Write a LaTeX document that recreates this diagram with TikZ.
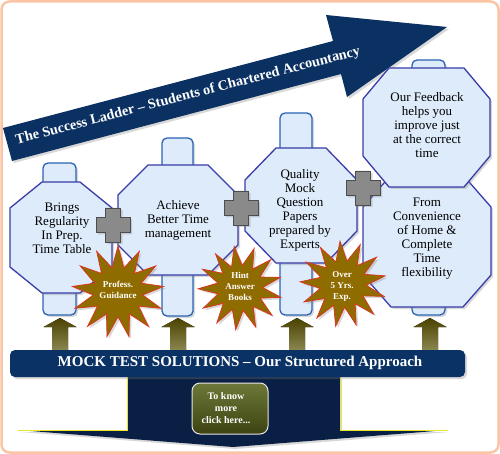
\documentclass[tikz,border=0pt]{standalone}
\usepackage{fontspec}
\setmainfont{Liberation Serif}
\usetikzlibrary{shapes.geometric,shadows}
\definecolor{framec}{HTML}{FBC5A5}
\definecolor{navy}{HTML}{0A3161}
\definecolor{bannerc}{HTML}{0B3264}
\definecolor{deepnavy}{HTML}{0A1F44}
\definecolor{octfill}{HTML}{DDEBFA}
\definecolor{octline}{HTML}{3A3CA8}
\definecolor{tabline}{HTML}{2C63B5}
\definecolor{plusgray}{HTML}{8A8A8A}
\definecolor{plusline}{HTML}{4D4D4D}
\definecolor{burstfill}{HTML}{8E6C00}
\definecolor{burstred}{HTML}{E03020}
\definecolor{olivedark}{HTML}{4A4200}
\definecolor{olivelight}{HTML}{8A8650}
\definecolor{btntop}{HTML}{6E7838}
\definecolor{btnbot}{HTML}{3C4312}
\definecolor{glow}{HTML}{E6E62A}
\newcommand\myoct[6]{%
  \draw[octo] ({#1+#5},#2) -- ({#3-#5},#2) -- (#3,{#2+#6}) -- (#3,{#4-#6}) --
    ({#3-#5},#4) -- ({#1+#5},#4) -- (#1,{#4-#6}) -- (#1,{#2+#6}) -- cycle;}
\newcommand\myplus[2]{%
  \draw[plusshape] ({#1-7.5},{#2-17}) -- ({#1+7.5},{#2-17}) -- ({#1+7.5},{#2-7.5}) --
    ({#1+17},{#2-7.5}) -- ({#1+17},{#2+7.5}) -- ({#1+7.5},{#2+7.5}) --
    ({#1+7.5},{#2+17}) -- ({#1-7.5},{#2+17}) -- ({#1-7.5},{#2+7.5}) --
    ({#1-17},{#2+7.5}) -- ({#1-17},{#2-7.5}) -- ({#1-7.5},{#2-7.5}) -- cycle;}
\newcommand\myup[1]{%
  \fill[uparrow] (#1,318) -- ({#1+16.5},327) -- ({#1+8},327) -- ({#1+8},350) --
    ({#1-8},350) -- ({#1-8},327) -- ({#1-16.5},327) -- cycle;}
\begin{document}
\begin{tikzpicture}[x=1pt,y=-1pt,
  softshadow/.style={drop shadow={opacity=0.3,shadow xshift=2pt,shadow yshift=-2pt}},
  octo/.style={fill=octfill,draw=octline,line width=1.3pt,softshadow},
  tabbox/.style={fill=octfill,draw=tabline,line width=1.3pt,rounded corners=5pt,softshadow},
  plusshape/.style={fill=plusgray,draw=plusline,line width=0.8pt,softshadow},
  burst/.style={star,star points=13,star point ratio=1.85,fill=burstfill,draw=burstred,
    line width=0.7pt,inner sep=0pt,softshadow},
  octtext/.style={align=center,text=black,font=\fontsize{13}{14}\selectfont},
  burstlabel/.style={align=center,text=white,font=\bfseries\fontsize{9}{11}\selectfont},
  uparrow/.style={top color=olivedark,bottom color=olivelight}
]
\useasboundingbox (0,0) rectangle (500,454);
% frame
\draw[framec,line width=2.5pt,rounded corners=8pt,fill=white] (1.5,1.5) rectangle (498.5,452.5);

% title arrow
\fill[navy,softshadow] (3,128) -- (333,41) -- (326,15) -- (447,27) -- (347,97) -- (341,74) -- (12,161) -- cycle;
\node[rotate=14.6,text=white,font=\bfseries\fontsize{14.3}{16}\selectfont] (title) at (188,96)
  {The Success Ladder -- Students of Chartered Accountancy};

% tabs (rails)
\draw[tabbox] (43,163) rectangle (76,315);
\draw[tabbox] (162,138) rectangle (193,316);
\draw[tabbox] (280,113) rectangle (312,315);
\draw[tabbox] (412,60) rectangle (445,315);

% octagons
\myoct{10}{182}{112}{293}{32}{26}
\myoct{118}{165}{238}{275}{30}{30}
\myoct{245}{148}{357}{263}{31}{32}
\myoct{363}{175}{491}{307}{28}{32}
\myoct{363}{68}{490}{187}{26}{31}

\node[octtext] (o1) at (62,228) {Brings\\Regularity\\In Prep.\\Time Table};
\node[octtext] (o2) at (178,220) {Achieve\\Better Time\\management};
\node[octtext] (o3) at (300,210) {Quality\\Mock\\Question\\Papers\\prepared by\\Experts};
\node[octtext] (o4) at (427,125) {Our Feedback\\helps you\\improve just\\at the correct\\time};
\node[octtext] (o5) at (427,239) {From\\Convenience\\of Home \&\\Complete\\Time\\flexibility};

% plus signs
\myplus{113}{225}
\myplus{241}{208}
\myplus{363}{188}

% bursts
\node[burst,minimum size=92pt] (b1) at (118,292) {};
\node[burst,minimum size=84pt,rotate=8] (b2) at (240,288) {};
\node[burst,minimum size=86pt,rotate=4] (b3) at (343,284) {};
\node[burstlabel] (t1) at (118,290) {Profess.\\Guidance};
\node[burstlabel] (t2) at (240,286) {Hint\\Answer\\Books};
\node[burstlabel] (t3) at (342,286) {Over\\5 Yrs.\\Exp.};

% up arrows
\myup{60}
\myup{178}
\myup{297}
\myup{430}

% bottom arrow
\fill[deepnavy,softshadow] (127,377) -- (340,377) -- (340,430) -- (448,430) -- (233,447) -- (18,430) -- (127,430) -- cycle;
\draw[glow,line width=1pt] (18,430) -- (127,430) -- (127,377);
\draw[glow,line width=1pt] (340,377) -- (340,430) -- (448,430);

% banner
\fill[bannerc,rounded corners=5pt,softshadow] (10,350) rectangle (465,377);
\node[text=white,font=\bfseries\fontsize{15}{17}\selectfont] (banner) at (240,363)
  {MOCK TEST SOLUTIONS -- Our Structured Approach};

% button
\draw[top color=btntop,bottom color=btnbot,draw=white!80!gray,line width=1pt,rounded corners=8pt]
  (192,383) rectangle (268,434);
\node[align=center,text=white,font=\bfseries\fontsize{10}{12}\selectfont] (btn) at (226,408)
  {To know\\more\\click here...};
\end{tikzpicture}
\end{document}
